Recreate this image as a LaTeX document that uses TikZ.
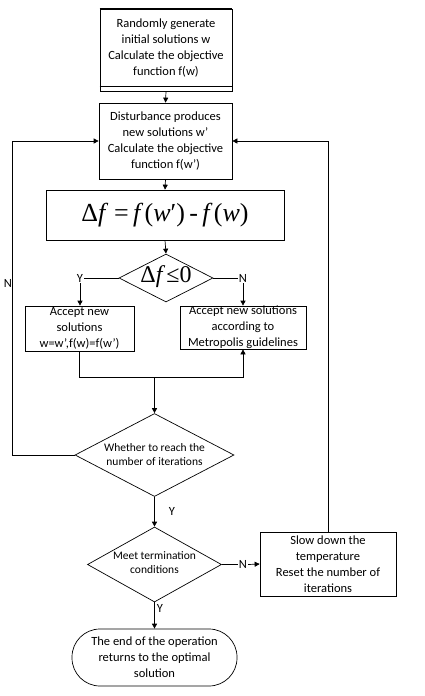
\documentclass[tikz,border=0pt]{standalone}
\usepackage{fontspec}
\setmainfont{Carlito}
\newfontfamily\tnr{Liberation Serif}
\usetikzlibrary{shapes.geometric,arrows.meta}
\begin{document}
\begin{tikzpicture}[x=1pt,y=-1pt,
  every node/.style={font=\fontsize{12.5}{16}\selectfont},
  box/.style={draw,line width=0.7pt,rectangle,inner sep=0pt,align=center},
  dia/.style={draw,line width=0.7pt,diamond,inner sep=0pt},
  lab/.style={inner sep=1pt,font=\fontsize{12.5}{14}\selectfont},
  dtext/.style={align=center,font=\fontsize{11.5}{14}\selectfont},
  conn/.style={line width=0.7pt},
  arr/.style={line width=0.7pt,-{Triangle[length=5pt,width=5pt]}}]
\useasboundingbox (0,0) rectangle (425,696);
% nodes
\node[box,minimum width=132pt,minimum height=82pt] (b1) at (166,50) {};
\node[align=center] (t1) at (166,48) {Randomly generate\\initial solutions w\\Calculate the objective\\function f(w)};
\node[box,minimum width=133pt,minimum height=76pt] (b2) at (165.5,141) {Disturbance produces\\new solutions w'\\Calculate the objective\\function f(w')};
\node[box,minimum width=238pt,minimum height=50pt] (b3) at (165,215) {{\tnr\fontsize{26}{28}\selectfont Δ\textit{f\,}\,=\,\textit{f\,}(\textit{w}′)\,-\,\textit{f\,}(\textit{w})}};
\node[dia,minimum width=94pt,minimum height=48pt] (d1) at (166,278) {};
\node (t3) at (166,277) {{\tnr\fontsize{24}{26}\selectfont Δ\textit{f\,}≤0}};
\node[lab] (yA) at (80,278) {Y};
\node[lab] (nA) at (243,278) {N};
\node[box,minimum width=109pt,minimum height=45pt] (b4) at (79.5,328.5) {Accept new\\solutions\\w=w',f(w)=f(w')};
\node[box,minimum width=126pt,minimum height=43pt] (b5) at (243,327.5) {Accept new solutions\\according to\\Metropolis guidelines};
\coordinate (j) at (154.5,377);
\node[dia,minimum width=159pt,minimum height=83pt] (d2) at (154.5,455) {};
\node[dtext] (t5) at (154.5,455) {Whether to reach the\\number of iterations};
\coordinate (cL) at (12,141);
\node[lab] (nL) at (8,283) {N};
\node[lab] (yB) at (172,511) {Y};
\node[dia,minimum width=134pt,minimum height=75pt] (d3) at (154.5,564.5) {};
\node[dtext] (t6) at (154.5,563) {Meet termination\\conditions};
\node[lab] (nB) at (243,564.5) {N};
\node[box,minimum width=136pt,minimum height=64pt] (b6) at (328,564) {Slow down the\\temperature\\Reset the number of\\iterations};
\coordinate (cR) at (328,141);
\node[lab] (yC) at (160,608) {Y};
\node[draw,line width=0.7pt,rounded corners=28pt,minimum width=165pt,minimum height=57pt,inner sep=0pt,align=center] (b7) at (154.5,657.5) {The end of the operation\\returns to the optimal\\solution};
% decorations of first box
\draw[line width=1.2pt] (b1.north west) -- (b1.north east);
\draw[conn] ([yshift=5pt]b1.south west) -- ([yshift=5pt]b1.south east);
% connectors
\draw[arr] (b1.south) -- (b2.north);
\draw[arr] (b2.south) -- (b3.north);
\draw[arr] (b3.south) -- (d1.north);
\draw[conn] (d1.west) -- (yA.east);
\draw[arr] (yA.south) -- (yA |- b4.north);
\draw[conn] (d1.east) -- (nA.west);
\draw[arr] (nA.south) -- (nA |- b5.north);
\draw[conn] (b4.south) |- (j);
\draw[arr] (j) -| (b5.south);
\draw[arr] (j) -- (d2.north);
\draw[arr] (d2.west) -| (cL) -- (b2.west);
\draw[arr] (d2.south) -- (d3.north);
\draw[conn] (d3.east) -- (nB.west);
\draw[arr] (nB.east) -- (b6.west);
\draw[arr] (b6.north) -- (cR) -- (b2.east);
\draw[arr] (d3.south) -- (b7.north);
\end{tikzpicture}
\end{document}
